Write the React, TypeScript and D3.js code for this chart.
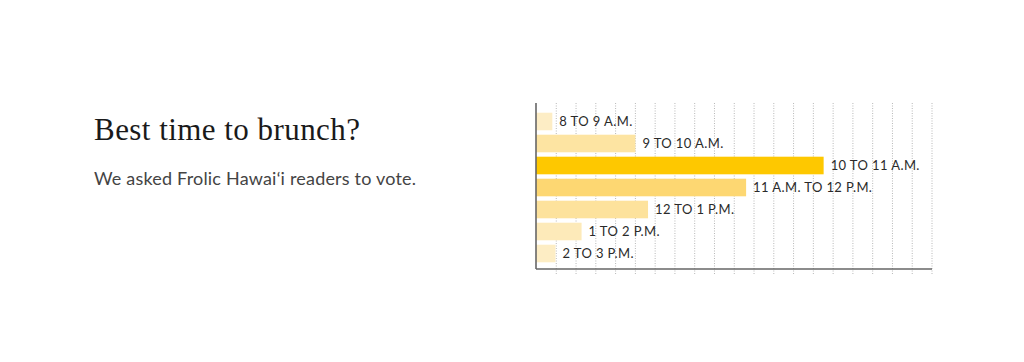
import { useEffect, useRef } from 'react';
import * as d3 from 'd3';

// data (share of votes, %)
const slots = ['8 TO 9 A.M.', '9 TO 10 A.M.', '10 TO 11 A.M.', '11 A.M. TO 12 P.M.', '12 TO 1 P.M.', '1 TO 2 P.M.', '2 TO 3 P.M.'];
const votes = [2, 12.5, 36.3, 26.5, 14.1, 5.7, 2.4];
const gridTicks = d3.range(2.5, 50.01, 2.5);

const title = 'Best time to brunch?';
const subtitle = 'We asked Frolic Hawaiʻi readers to vote.';

const App = () => {
  const ref = useRef<SVGSVGElement>(null);

  useEffect(() => {
    const svg = d3.select(ref.current);
    svg.selectAll('*').remove();

    const width = 1024; const height = 362;
    const left = 536; const right = 932; const top = 103; const bottom = 269;

    svg.attr('width', width).attr('height', height);

    const x = d3.scaleLinear().domain([0, 50]).range([left + 0.5, right]);
    const y = d3.scaleBand<string>()
      .domain(slots)
      .range([110.5, 264.5])
      .paddingInner(0.2)
      .paddingOuter(0.1);

    const maxVote = d3.max(votes) as number;
    const shade = d3.scaleLinear<string>().domain([0, 30]).range(['#fdefcc', '#fdd466']);
    const colour = (v: number) => (v === maxVote ? '#fec800' : shade(v));

    // titles
    svg.append('text')
      .attr('x', 94).attr('y', 140)
      .attr('font-family', '"Liberation Serif", serif')
      .attr('font-size', 31)
      .attr('textLength', 266)
      .attr('lengthAdjust', 'spacing')
      .attr('fill', '#1a1a1a')
      .text(title);

    svg.append('text')
      .attr('x', 94).attr('y', 185)
      .attr('font-family', 'Lato, sans-serif')
      .attr('font-size', 18)
      .attr('textLength', 322)
      .attr('lengthAdjust', 'spacing')
      .attr('fill', '#444')
      .text(subtitle);

    // dotted gridlines
    svg.append('g')
      .selectAll('line')
      .data(gridTicks)
      .enter()
      .append('line')
      .attr('x1', d => x(d)).attr('x2', d => x(d))
      .attr('y1', top).attr('y2', bottom + 6)
      .attr('stroke', '#b8b8b8')
      .attr('stroke-width', 1)
      .attr('stroke-dasharray', '1,1.5');

    // bars
    svg.append('g')
      .selectAll('rect')
      .data(votes)
      .enter()
      .append('rect')
      .attr('x', x(0))
      .attr('y', (d, i) => y(slots[i]) as number)
      .attr('width', d => x(d) - x(0))
      .attr('height', y.bandwidth())
      .attr('fill', d => colour(d));

    // labels next to the bars
    svg.append('g')
      .selectAll('text')
      .data(votes)
      .enter()
      .append('text')
      .attr('x', d => x(d) + 7)
      .attr('y', (d, i) => (y(slots[i]) as number) + y.bandwidth() / 2)
      .attr('dy', '0.36em')
      .attr('font-family', 'Lato, sans-serif')
      .attr('font-size', 13)
      .attr('letter-spacing', 0.4)
      .attr('fill', '#2a2a2a')
      .text((d, i) => slots[i]);

    // axis lines
    svg.append('line')
      .attr('x1', left).attr('x2', left)
      .attr('y1', top).attr('y2', bottom)
      .attr('stroke', '#333').attr('stroke-width', 1.2);
    svg.append('line')
      .attr('x1', left).attr('x2', right)
      .attr('y1', bottom).attr('y2', bottom)
      .attr('stroke', '#666').attr('stroke-width', 1.5);
  }, []);

  return <svg ref={ref} style={{ position: 'absolute', left: 0, top: 0 }}></svg>;
};

export default App;
